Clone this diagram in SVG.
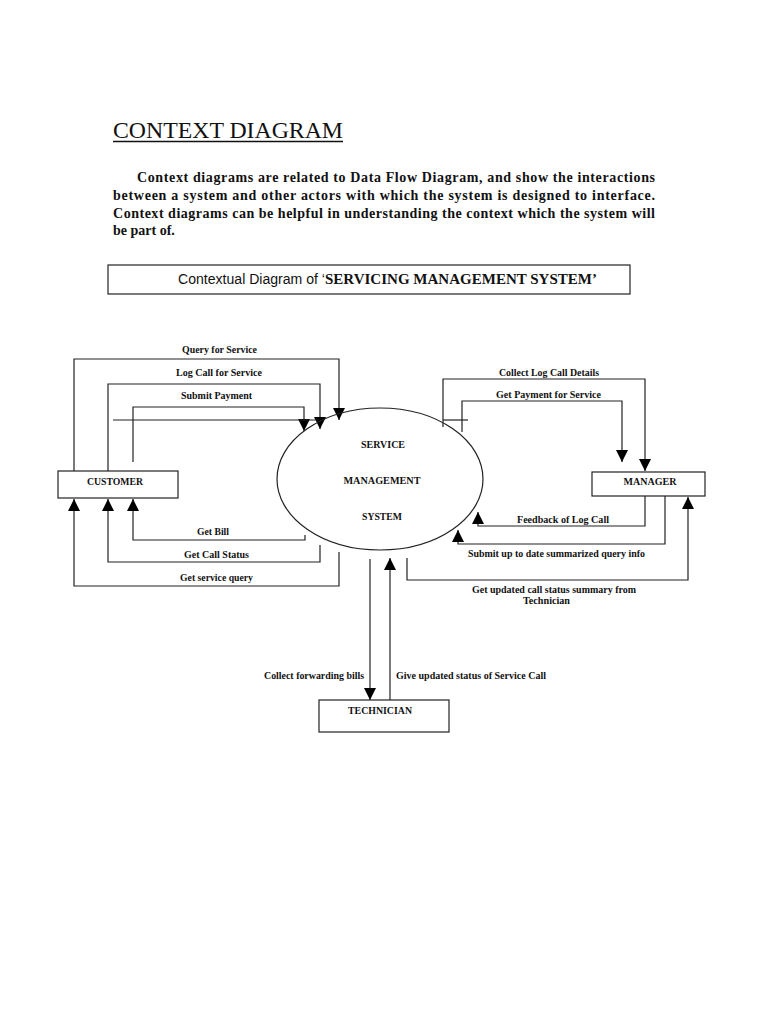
<svg xmlns="http://www.w3.org/2000/svg" width="768" height="1024" viewBox="0 0 768 1024">
<style>
  .lbl { font-family: "Liberation Serif", "Times New Roman", serif; font-weight: bold; font-size: 9.5px; fill: #111; }
  .node { font-family: "Liberation Serif", "Times New Roman", serif; font-weight: bold; font-size: 9.5px; fill: #111; text-anchor: middle; }
  .para { font-family: "Liberation Serif", "Times New Roman", serif; font-weight: bold; font-size: 14px; fill: #111; }
  .box { fill: #fff; stroke: #222; stroke-width: 1.2; }
  .flow { fill: none; stroke: #222; stroke-width: 1.2; }
  .flow-a { fill: none; stroke: #222; stroke-width: 1.2; marker-end: url(#ah); }
</style>
<defs>
  <marker id="ah" viewBox="0 0 12 12" refX="12" refY="6" markerWidth="12" markerHeight="12" markerUnits="userSpaceOnUse" orient="auto">
    <path d="M0,0 L12,6 L0,12 z" fill="#000"/>
  </marker>
</defs>
<rect width="768" height="1024" fill="#fff"/>

<g id="header">
  <text x="113" y="138" font-family="Liberation Serif, Times New Roman, serif" font-size="23.5" fill="#111" textLength="230" lengthAdjust="spacingAndGlyphs">CONTEXT DIAGRAM</text>
  <line x1="113" y1="141.5" x2="343" y2="141.5" stroke="#111" stroke-width="1.5"/>
  <text class="para" x="137" y="182" textLength="518" lengthAdjust="spacing">Context diagrams are related to Data Flow Diagram, and show the interactions</text>
  <text class="para" x="113" y="200" textLength="542" lengthAdjust="spacing">between a system and other actors with which the system is designed to interface.</text>
  <text class="para" x="113" y="218" textLength="542" lengthAdjust="spacing">Context diagrams can be helpful in understanding the context which the system will</text>
  <text class="para" x="113" y="235">be part of.</text>
  <rect x="108" y="265" width="522" height="29" fill="#fff" stroke="#222" stroke-width="1.2"/>
  <text x="178" y="284" fill="#111"><tspan font-family="Liberation Sans, Arial, sans-serif" font-size="14" textLength="147" lengthAdjust="spacingAndGlyphs">Contextual Diagram of ‘</tspan><tspan font-family="Liberation Serif, Times New Roman, serif" font-weight="bold" font-size="14" textLength="272" lengthAdjust="spacingAndGlyphs">SERVICING MANAGEMENT SYSTEM’</tspan></text>
</g>

<g id="connectors">
  <!-- customer to system -->
  <path class="flow-a" d="M74,471 V359 H339 V420"/>
  <path class="flow-a" d="M108,471 V384 H320 V429"/>
  <path class="flow-a" d="M133,462 V407 H304 V431"/>
  <line class="flow" x1="113" y1="420" x2="318" y2="420"/>
  <!-- system to customer -->
  <path class="flow-a" d="M305,535 V540 H133 V499"/>
  <path class="flow-a" d="M320,545 V562 H108 V499"/>
  <path class="flow-a" d="M339,552 V586 H74 V499"/>
  <!-- system to manager -->
  <path class="flow-a" d="M443,427 V379 H645 V471"/>
  <path class="flow-a" d="M462,432 V401 H622 V462"/>
  <line class="flow" x1="443" y1="420" x2="468" y2="420"/>
  <!-- manager to system -->
  <path class="flow-a" d="M645,496 V526 H478 V512"/>
  <path class="flow-a" d="M665,496 V544 H458 V530"/>
  <path class="flow-a" d="M407,558 V580 H688 V497"/>
  <!-- technician -->
  <path class="flow-a" d="M370,559 V700"/>
  <path class="flow-a" d="M390,700 V558"/>
</g>

<g id="labels">
  <text class="lbl" x="182" y="353" textLength="75" lengthAdjust="spacingAndGlyphs">Query for Service</text>
  <text class="lbl" x="176" y="376" textLength="86" lengthAdjust="spacingAndGlyphs">Log Call for Service</text>
  <text class="lbl" x="181" y="399" textLength="71" lengthAdjust="spacingAndGlyphs">Submit Payment</text>
  <text class="lbl" x="197" y="535" textLength="32" lengthAdjust="spacingAndGlyphs">Get Bill</text>
  <text class="lbl" x="184" y="558" textLength="65" lengthAdjust="spacingAndGlyphs">Get Call Status</text>
  <text class="lbl" x="180" y="581" textLength="73" lengthAdjust="spacingAndGlyphs">Get service query</text>
  <text class="lbl" x="499" y="376" textLength="100" lengthAdjust="spacingAndGlyphs">Collect Log Call Details</text>
  <text class="lbl" x="496" y="398" textLength="105" lengthAdjust="spacingAndGlyphs">Get Payment for Service</text>
  <text class="lbl" x="517" y="523" textLength="92" lengthAdjust="spacingAndGlyphs">Feedback of Log Call</text>
  <text class="lbl" x="468" y="557" textLength="177" lengthAdjust="spacingAndGlyphs">Submit up to date summarized query info</text>
  <text class="lbl" x="472" y="593" textLength="164" lengthAdjust="spacingAndGlyphs">Get updated call status summary from</text>
  <text class="lbl" x="523" y="604" textLength="47" lengthAdjust="spacingAndGlyphs">Technician</text>
  <text class="lbl" x="264" y="679" textLength="100" lengthAdjust="spacingAndGlyphs">Collect forwarding bills</text>
  <text class="lbl" x="396" y="679" textLength="150" lengthAdjust="spacingAndGlyphs">Give updated status of Service Call</text>
</g>

<g id="system">
  <ellipse cx="380" cy="479" rx="103" ry="71" fill="none" stroke="#222" stroke-width="1.2"/>
  <text class="node" x="383" y="448" textLength="44" lengthAdjust="spacingAndGlyphs">SERVICE</text>
  <text class="node" x="382" y="484" textLength="77" lengthAdjust="spacingAndGlyphs">MANAGEMENT</text>
  <text class="node" x="382" y="520" textLength="40" lengthAdjust="spacingAndGlyphs">SYSTEM</text>
</g>

<g id="customer">
  <rect class="box" x="58" y="471" width="120" height="27"/>
  <text class="node" x="115" y="485" textLength="56" lengthAdjust="spacingAndGlyphs">CUSTOMER</text>
</g>

<g id="manager">
  <rect class="box" x="592" y="472" width="113" height="24"/>
  <text class="node" x="650" y="485" textLength="53" lengthAdjust="spacingAndGlyphs">MANAGER</text>
</g>

<g id="technician">
  <rect class="box" x="319" y="700" width="130" height="32"/>
  <text class="node" x="380" y="714" textLength="64" lengthAdjust="spacingAndGlyphs">TECHNICIAN</text>
</g>
</svg>
